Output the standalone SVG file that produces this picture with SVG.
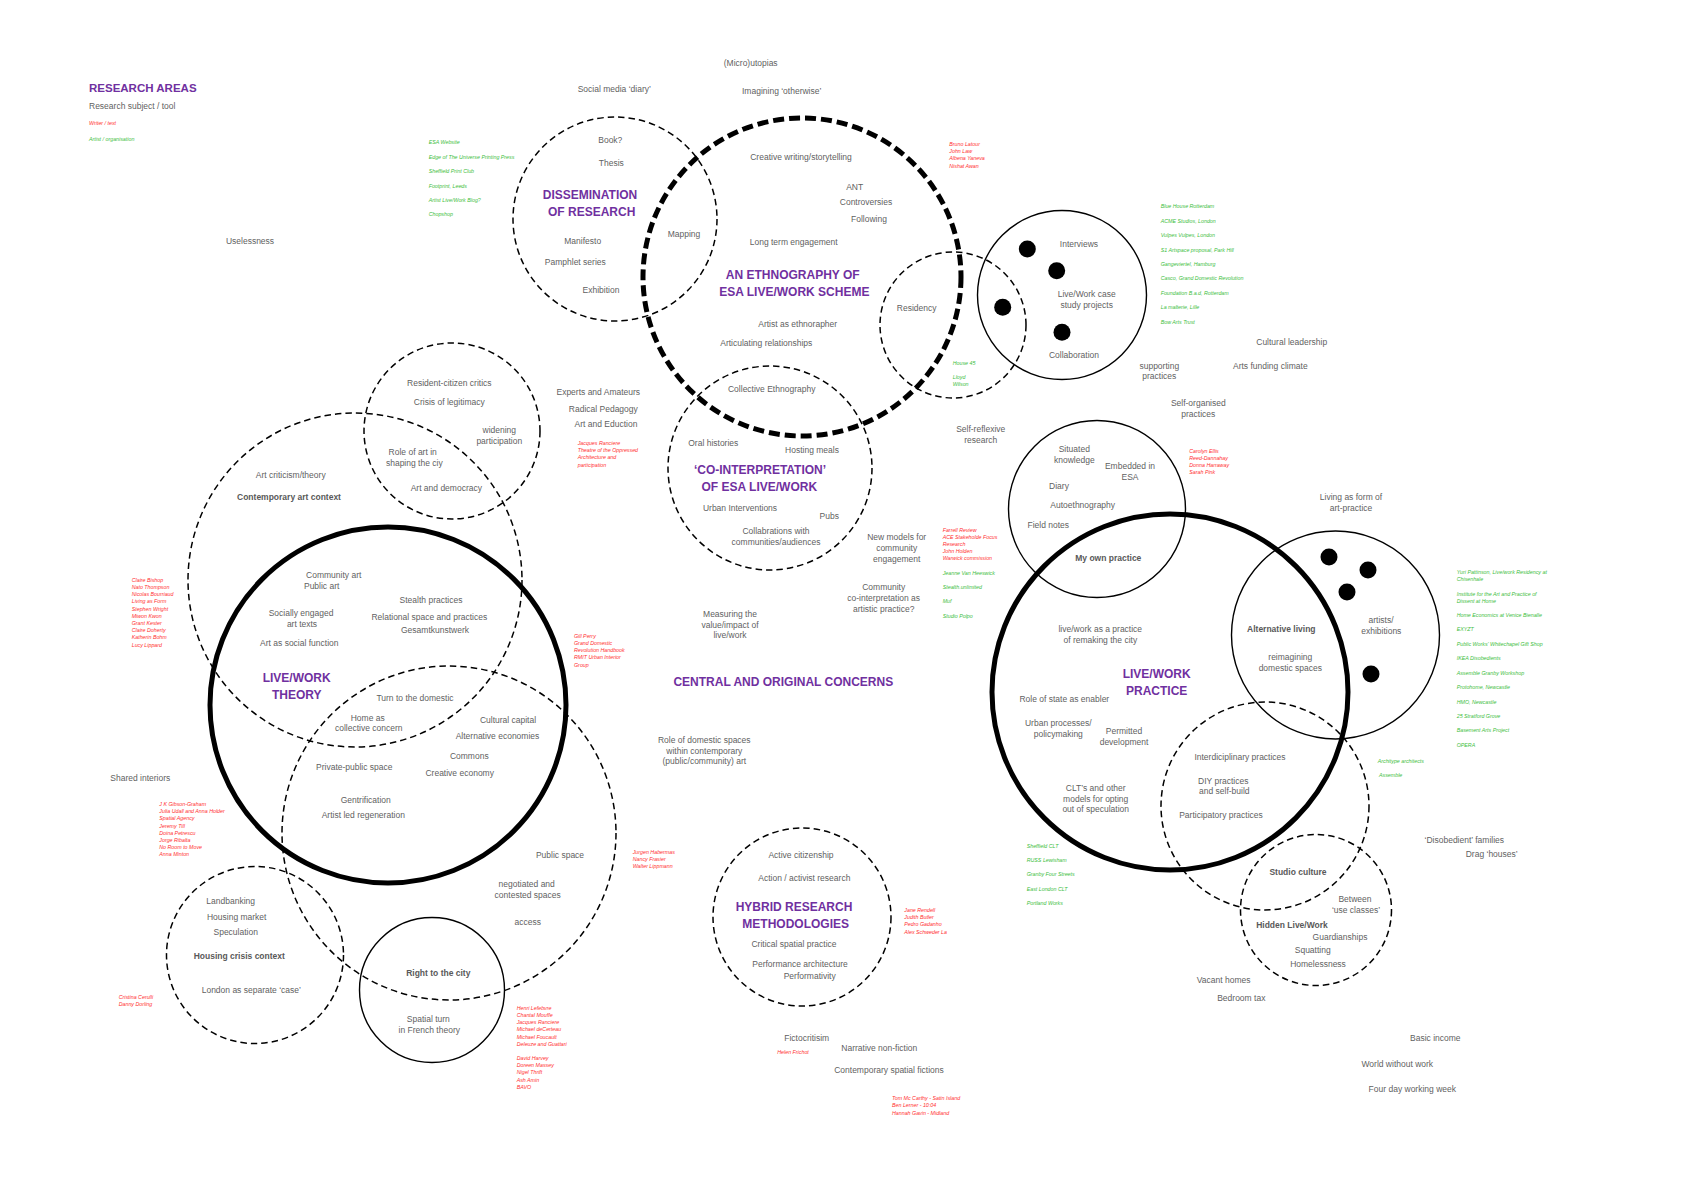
<svg xmlns="http://www.w3.org/2000/svg" width="1684" height="1191" viewBox="0 0 1684 1191">
<style>
text{font-family:"Liberation Sans",Arial,sans-serif}
.t{font-size:8.5px;fill:#5f5f5f;text-anchor:middle}
.tb{font-size:8.5px;fill:#595959;text-anchor:middle;font-weight:bold}
.h{font-size:12px;fill:#7030A0;font-weight:bold;text-anchor:middle}
.r{font-size:5.3px;fill:#FF3030;font-style:italic}
.g{font-size:5.3px;fill:#3DBE3D;font-style:italic}
.dash{fill:none;stroke:#000;stroke-width:1.5;stroke-dasharray:6.5 4}
.tdash{fill:none;stroke:#000;stroke-width:5;stroke-dasharray:11 5}
.solid{fill:none;stroke:#000;stroke-width:1.4}
.thick{fill:none;stroke:#000;stroke-width:5}
.dot{fill:#000}
</style>
<rect width="1684" height="1191" fill="#fff"/>

<g id="legend">
<text x="89" y="92" style="font-size:11.5px;fill:#7030A0;font-weight:bold">RESEARCH AREAS</text>
<text class="t" x="89" y="108.7" style="text-anchor:start">Research subject / tool</text>
<text class="r" x="89" y="124.7">Writer / text</text>
<text class="g" x="89" y="141">Artist / organisation</text>
</g>

<g id="n-dissemination">
<circle class="dash" cx="615" cy="219" r="102"/>
<text class="t" x="610.3" y="143.3">Book?</text>
<text class="t" x="611.3" y="166">Thesis</text>
<text class="h" x="590" y="199.3">DISSEMINATION</text>
<text class="h" x="591.7" y="216">OF RESEARCH</text>
<text class="t" x="582.7" y="243.7">Manifesto</text>
<text class="t" x="575.3" y="265.3">Pamphlet series</text>
<text class="t" x="601" y="293">Exhibition</text>
<text class="t" x="684" y="237">Mapping</text>
</g>

<g id="n-ethnography">
<circle class="tdash" cx="802" cy="277" r="159"/>
<text class="t" x="801" y="160">Creative writing/storytelling</text>
<text class="t" x="854.7" y="190.3">ANT</text>
<text class="t" x="866" y="205">Controversies</text>
<text class="t" x="869" y="221.7">Following</text>
<text class="t" x="793.7" y="245">Long term engagement</text>
<text class="h" x="792.7" y="279.3">AN ETHNOGRAPHY OF</text>
<text class="h" x="794.3" y="296">ESA LIVE/WORK SCHEME</text>
<text class="t" x="797.7" y="326.7">Artist as ethnorapher</text>
<text class="t" x="766.3" y="346">Articulating relationships</text>
</g>

<g id="n-residency">
<circle class="dash" cx="953" cy="325" r="73"/>
<text class="t" x="916.7" y="311">Residency</text>
</g>

<g id="n-casestudy">
<circle class="solid" cx="1062" cy="295" r="84.5"/>
<circle class="dot" cx="1027.3" cy="249" r="8.5"/>
<circle class="dot" cx="1056.7" cy="270.7" r="8.5"/>
<circle class="dot" cx="1002.7" cy="307.3" r="8.5"/>
<circle class="dot" cx="1062" cy="332.3" r="8.5"/>
<text class="t" x="1079" y="247.3">Interviews</text>
<text class="t" x="1086.7" y="296.7">Live/Work case</text>
<text class="t" x="1086.7" y="307.7">study projects</text>
<text class="t" x="1074" y="357.7">Collaboration</text>
</g>

<g id="n-cointerpretation">
<circle class="dash" cx="770" cy="468" r="102"/>
<text class="t" x="771.7" y="392">Collective Ethnography</text>
<text class="t" x="713.3" y="446">Oral histories</text>
<text class="t" x="812" y="453">Hosting meals</text>
<text class="h" x="760" y="474.3">‘CO-INTERPRETATION’</text>
<text class="h" x="759.3" y="491">OF ESA LIVE/WORK</text>
<text class="t" x="740" y="510.7">Urban Interventions</text>
<text class="t" x="829.3" y="519.3">Pubs</text>
<text class="t" x="776" y="534">Collabrations with</text>
<text class="t" x="776" y="544.7">communities/audiences</text>
</g>

<g id="n-hybrid">
<circle class="dash" cx="802" cy="917" r="89"/>
<text class="t" x="801" y="858.3">Active citizenship</text>
<text class="t" x="804.3" y="881.3">Action / activist research</text>
<text class="h" x="794" y="911">HYBRID RESEARCH</text>
<text class="h" x="795.7" y="927.6">METHODOLOGIES</text>
<text class="t" x="794" y="946.7">Critical spatial practice</text>
<text class="t" x="800" y="967">Performance architecture</text>
<text class="t" x="809.7" y="978.7">Performativity</text>
</g>

<g id="n-citizen">
<circle class="dash" cx="452" cy="431" r="88"/>
<text class="t" x="449.3" y="386.3">Resident-citizen critics</text>
<text class="t" x="449.3" y="405">Crisis of legitimacy</text>
<text class="t" x="499.3" y="433">widening</text>
<text class="t" x="499.3" y="443.7">participation</text>
<text class="t" x="412.7" y="455.3">Role of art in</text>
<text class="t" x="414.3" y="466.3">shaping the ciy</text>
<text class="t" x="446.3" y="490.7">Art and democracy</text>
</g>

<g id="n-artcontext">
<circle class="dash" cx="355" cy="580" r="167"/>
<text class="t" x="290.7" y="478.3">Art criticism/theory</text>
<text class="tb" x="289" y="499.7">Contemporary art context</text>
</g>

<g id="n-theory">
<circle class="thick" cx="388" cy="705" r="178"/>
<text class="t" x="333.7" y="578">Community art</text>
<text class="t" x="321.7" y="588.7">Public art</text>
<text class="t" x="431" y="602.7">Stealth practices</text>
<text class="t" x="301" y="616.3">Socially engaged</text>
<text class="t" x="302" y="627">art texts</text>
<text class="t" x="429.3" y="619.7">Relational space and practices</text>
<text class="t" x="435" y="633.3">Gesamtkunstwerk</text>
<text class="t" x="299.3" y="645.7">Art as social function</text>
<text class="h" x="296.7" y="681.6">LIVE/WORK</text>
<text class="h" x="296.7" y="698.6">THEORY</text>
<text class="t" x="415" y="701">Turn to the domestic</text>
<text class="t" x="367.7" y="720.7">Home as</text>
<text class="t" x="368.7" y="731.3">collective concern</text>
<text class="t" x="508" y="723">Cultural capital</text>
<text class="t" x="497.5" y="739.3">Alternative economies</text>
<text class="t" x="469.3" y="758.7">Commons</text>
<text class="t" x="354.3" y="769.7">Private-public space</text>
<text class="t" x="459.7" y="775.7">Creative economy</text>
<text class="t" x="365.7" y="802.7">Gentrification</text>
<text class="t" x="363.3" y="818.3">Artist led regeneration</text>
</g>

<g id="n-publicspace">
<circle class="dash" cx="449" cy="833" r="167"/>
<text class="t" x="560" y="857.7">Public space</text>
<text class="t" x="526.7" y="887.3">negotiated and</text>
<text class="t" x="527.7" y="898">contested spaces</text>
<text class="t" x="527.7" y="925">access</text>
</g>

<g id="n-housing">
<circle class="dash" cx="255" cy="955" r="88.5"/>
<text class="t" x="230.7" y="904.3">Landbanking</text>
<text class="t" x="236.7" y="920">Housing market</text>
<text class="t" x="235.7" y="935.3">Speculation</text>
<text class="tb" x="239.3" y="958.7">Housing crisis context</text>
<text class="t" x="251.3" y="993">London as separate ‘case’</text>
</g>

<g id="n-rightcity">
<circle class="solid" cx="432" cy="990" r="72.5"/>
<text class="tb" x="438.3" y="976.3">Right to the city</text>
<text class="t" x="428.3" y="1022">Spatial turn</text>
<text class="t" x="429.3" y="1033">in French theory</text>
</g>

<g id="n-ownpractice">
<circle class="solid" cx="1097" cy="509" r="88.5"/>
<text class="t" x="1074.3" y="452">Situated</text>
<text class="t" x="1074.3" y="463">knowledge</text>
<text class="t" x="1130" y="468.7">Embedded in</text>
<text class="t" x="1130" y="479.7">ESA</text>
<text class="t" x="1059" y="489">Diary</text>
<text class="t" x="1082.7" y="508.3">Autoethnography</text>
<text class="t" x="1048.3" y="527.7">Field notes</text>
<text class="tb" x="1108.3" y="561.3">My own practice</text>
</g>

<g id="n-practice">
<circle class="thick" cx="1170" cy="692" r="178"/>
<text class="t" x="1100.3" y="632.3">live/work as a practice</text>
<text class="t" x="1100.3" y="643">of remaking the city</text>
<text class="h" x="1156.7" y="678.3">LIVE/WORK</text>
<text class="h" x="1156.7" y="695">PRACTICE</text>
<text class="t" x="1064.3" y="701.7">Role of state as enabler</text>
<text class="t" x="1058.3" y="726.3">Urban processes/</text>
<text class="t" x="1058.3" y="737">policymaking</text>
<text class="t" x="1124" y="734">Permitted</text>
<text class="t" x="1124" y="744.7">development</text>
<text class="t" x="1095.7" y="790.7">CLT’s and other</text>
<text class="t" x="1095.7" y="801.7">models for opting</text>
<text class="t" x="1095.7" y="812.3">out of speculation</text>
</g>

<g id="n-altliving">
<circle class="solid" cx="1335.5" cy="635" r="104"/>
<circle class="dot" cx="1329" cy="557" r="8.5"/>
<circle class="dot" cx="1368" cy="570" r="8.5"/>
<circle class="dot" cx="1347" cy="592" r="8.5"/>
<circle class="dot" cx="1371" cy="674" r="8.5"/>
<text class="tb" x="1281.3" y="632.3">Alternative living</text>
<text class="t" x="1290.3" y="659.7">reimagining</text>
<text class="t" x="1290.3" y="670.7">domestic spaces</text>
<text class="t" x="1381" y="623">artists/</text>
<text class="t" x="1381.3" y="633.7">exhibitions</text>
</g>

<g id="n-interdisc">
<circle class="dash" cx="1265" cy="806" r="104"/>
<text class="t" x="1240" y="760.3">Interdiciplinary practices</text>
<text class="t" x="1223.3" y="783.7">DIY practices</text>
<text class="t" x="1224.3" y="794.3">and self-build</text>
<text class="t" x="1221" y="818">Participatory practices</text>
</g>

<g id="n-hidden">
<circle class="dash" cx="1316" cy="910" r="75.5"/>
<text class="tb" x="1298" y="875.3">Studio culture</text>
<text class="t" x="1355" y="902.3">Between</text>
<text class="t" x="1356" y="913.3">‘use classes’</text>
<text class="tb" x="1292" y="927.7">Hidden Live/Work</text>
<text class="t" x="1340" y="940.3">Guardianships</text>
<text class="t" x="1312.7" y="952.7">Squatting</text>
<text class="t" x="1318" y="966.7">Homelessness</text>
</g>

<g id="floating-labels">
<text class="t" x="250" y="243.7">Uselessness</text>
<text class="t" x="750.7" y="66.3">(Micro)utopias</text>
<text class="t" x="614.3" y="92.3">Social media ‘diary’</text>
<text class="t" x="781.7" y="93.7">Imagining ‘otherwise’</text>
<text class="t" x="1291.7" y="344.7">Cultural leadership</text>
<text class="t" x="1159.3" y="368.7">supporting</text>
<text class="t" x="1159.3" y="379">practices</text>
<text class="t" x="1270.3" y="369">Arts funding climate</text>
<text class="t" x="1198.3" y="405.7">Self-organised</text>
<text class="t" x="1198.3" y="416.7">practices</text>
<text class="t" x="980.7" y="432">Self-reflexive</text>
<text class="t" x="980.7" y="443">research</text>
<text class="t" x="598.3" y="394.7">Experts and Amateurs</text>
<text class="t" x="603.3" y="411.7">Radical Pedagogy</text>
<text class="t" x="606" y="426.7">Art and Eduction</text>
<text class="t" x="1351" y="500">Living as form of</text>
<text class="t" x="1351" y="511">art-practice</text>
<text class="t" x="896.7" y="540">New models for</text>
<text class="t" x="896.7" y="551">community</text>
<text class="t" x="896.7" y="562">engagement</text>
<text class="t" x="883.7" y="590">Community</text>
<text class="t" x="883.7" y="601">co-interpretation as</text>
<text class="t" x="883.7" y="611.7">artistic practice?</text>
<text class="t" x="730" y="616.7">Measuring the</text>
<text class="t" x="730" y="627.7">value/impact of</text>
<text class="t" x="730" y="638.3">live/work</text>
<text class="h" x="783.3" y="686">CENTRAL AND ORIGINAL CONCERNS</text>
<text class="t" x="704.3" y="742.7">Role  of domestic spaces</text>
<text class="t" x="704.3" y="753.7">within contemporary</text>
<text class="t" x="704.3" y="764.3">(public/community) art</text>
<text class="t" x="140.3" y="781.3">Shared interiors</text>
<text class="t" x="1464.3" y="843.3">‘Disobedient’ families</text>
<text class="t" x="1491.7" y="857">Drag ‘houses’</text>
<text class="t" x="1223.7" y="983.3">Vacant homes</text>
<text class="t" x="1241.3" y="1000.7">Bedroom tax</text>
<text class="t" x="806.7" y="1040.7">Fictocritisim</text>
<text class="t" x="879.3" y="1051.3">Narrative non-fiction</text>
<text class="t" x="889" y="1073">Contemporary spatial fictions</text>
<text class="t" x="1435.3" y="1040.7">Basic income</text>
<text class="t" x="1397.3" y="1066.7">World without work</text>
<text class="t" x="1412.3" y="1091.7">Four day working week</text>
</g>

<g id="writers">
<text class="r" x="949.3" y="146">Bruno Latour</text>
<text class="r" x="949.3" y="153">John Law</text>
<text class="r" x="949.3" y="160.3">Albena Yaneva</text>
<text class="r" x="949.3" y="167.7">Nishat Awan</text>
<text class="r" x="1189.3" y="453">Carolyn Ellis</text>
<text class="r" x="1189.3" y="460">Reed-Dannahay</text>
<text class="r" x="1189.3" y="467.3">Donna Harraway</text>
<text class="r" x="1189.3" y="474.3">Sarah Pink</text>
<text class="r" x="577.7" y="445">Jacques Ranciere</text>
<text class="r" x="577.7" y="452.3">Theatre of the Oppressed</text>
<text class="r" x="577.7" y="459.3">Architecture and</text>
<text class="r" x="577.7" y="466.7">participation</text>
<text class="r" x="942.7" y="531.7">Farrell Review</text>
<text class="r" x="942.7" y="538.7">ACE Stakeholde Focus</text>
<text class="r" x="942.7" y="545.7">Research</text>
<text class="r" x="942.7" y="553">John Holden</text>
<text class="r" x="942.7" y="560.3">Warwick commission</text>
<text class="r" x="574" y="637.7">Gill Perry</text>
<text class="r" x="574" y="645">Grand Domestic</text>
<text class="r" x="574" y="652">Revolution Handbook</text>
<text class="r" x="574" y="659.3">RMIT Urban Interior</text>
<text class="r" x="574" y="666.7">Group</text>
<text class="r" x="131.7" y="582">Claire Bishop</text>
<text class="r" x="131.7" y="589">Nato Thompson</text>
<text class="r" x="131.7" y="596">Nicolas Bourriaud</text>
<text class="r" x="131.7" y="603.3">Living as Form</text>
<text class="r" x="131.7" y="610.7">Stephen Wright</text>
<text class="r" x="131.7" y="617.7">Miwon Kwon</text>
<text class="r" x="131.7" y="625">Grant Kester</text>
<text class="r" x="131.7" y="632">Claire Doherty</text>
<text class="r" x="131.7" y="639.3">Katherin Bohm</text>
<text class="r" x="131.7" y="646.7">Lucy Lippard</text>
<text class="r" x="159.3" y="806">J K Gibson-Graham</text>
<text class="r" x="159.3" y="813">Julia Udall and Anna Holder</text>
<text class="r" x="159.3" y="820.3">Spatial Agency</text>
<text class="r" x="159.3" y="827.7">Jeremy Till</text>
<text class="r" x="159.3" y="834.7">Doina Petrescu</text>
<text class="r" x="159.3" y="842">Jorge Ribalta</text>
<text class="r" x="159.3" y="849">No Room to Move</text>
<text class="r" x="159.3" y="856.3">Anna Minton</text>
<text class="r" x="632.7" y="854">Jurgen Habermas</text>
<text class="r" x="632.7" y="861">Nancy Frasier</text>
<text class="r" x="632.7" y="868">Walter Lippmann</text>
<text class="r" x="904.3" y="912">Jane Rendell</text>
<text class="r" x="904.3" y="919">Judith Butler</text>
<text class="r" x="904.3" y="926.3">Pedro Gadanho</text>
<text class="r" x="904.3" y="933.7">Alex Schweder La</text>
<text class="r" x="118.7" y="998.7">Cristina Cerulli</text>
<text class="r" x="118.7" y="1006">Danny Dorling</text>
<text class="r" x="516.7" y="1009.7">Henri Lefebvre</text>
<text class="r" x="516.7" y="1016.7">Chantal Mouffe</text>
<text class="r" x="516.7" y="1024">Jacques Ranciere</text>
<text class="r" x="516.7" y="1031.3">Michael deCerteau</text>
<text class="r" x="516.7" y="1038.7">Michael Foucault</text>
<text class="r" x="516.7" y="1045.7">Deleuze and Guattari</text>
<text class="r" x="516.7" y="1060">David Harvey</text>
<text class="r" x="516.7" y="1067">Doreen Massey</text>
<text class="r" x="516.7" y="1074.3">Nigel Thrift</text>
<text class="r" x="516.7" y="1081.7">Ash Amin</text>
<text class="r" x="516.7" y="1088.7">BAVO</text>
<text class="r" x="777.3" y="1053.7">Helen Frichot</text>
<text class="r" x="892" y="1100">Tom Mc Carthy - Satin Island</text>
<text class="r" x="892" y="1107.3">Ben Lerner - 10:04</text>
<text class="r" x="892" y="1114.7">Hannah Gavin - Midland</text>
</g>

<g id="organisations">
<text class="g" x="428.7" y="144.3">ESA Website</text>
<text class="g" x="428.7" y="158.7">Edge of The Universe Printing Press</text>
<text class="g" x="428.7" y="173">Sheffield Print Club</text>
<text class="g" x="428.7" y="187.7">Footprint, Leeds</text>
<text class="g" x="428.7" y="202">Artist Live/Work  Blog?</text>
<text class="g" x="428.7" y="216.3">Chopshop</text>
<text class="g" x="1160.7" y="208.3">Blue House Rotterdam</text>
<text class="g" x="1160.7" y="222.7">ACME Studios, London</text>
<text class="g" x="1160.7" y="237">Vulpes Vulpes, London</text>
<text class="g" x="1160.7" y="251.7">S1 Artspace proposal, Park Hill</text>
<text class="g" x="1160.7" y="266">Gangeviertel, Hamburg</text>
<text class="g" x="1160.7" y="280.3">Casco, Grand Domestic Revolution</text>
<text class="g" x="1160.7" y="294.7">Foundation B.a.d, Rotterdam</text>
<text class="g" x="1160.7" y="309">La malterie, Lille</text>
<text class="g" x="1160.7" y="323.7">Bow Arts Trust</text>
<text class="g" x="952.7" y="364.7">House 45</text>
<text class="g" x="952.7" y="379">Lloyd</text>
<text class="g" x="952.7" y="386.3">Wilson</text>
<text class="g" x="942.7" y="574.7">Jeanne Van Heeswick</text>
<text class="g" x="942.7" y="588.7">Stealth.unlimited</text>
<text class="g" x="942.7" y="603">Muf</text>
<text class="g" x="942.7" y="617.7">Studio Polpo</text>
<text class="g" x="1456.7" y="574">Yuri Pattinson, Live/work Residency at</text>
<text class="g" x="1456.7" y="581">Chisenhale</text>
<text class="g" x="1456.7" y="595.7">Institute for the Art and Practice of</text>
<text class="g" x="1456.7" y="603">Dissent at Home</text>
<text class="g" x="1456.7" y="617">Home Economics at Venice Bienalle</text>
<text class="g" x="1456.7" y="631.3">EXYZT</text>
<text class="g" x="1456.7" y="645.7">Public Works’ Whitechapel Gift Shop</text>
<text class="g" x="1456.7" y="660">IKEA Disobedients</text>
<text class="g" x="1456.7" y="675">Assemble Granby Workshop</text>
<text class="g" x="1456.7" y="689">Protohome, Newcastle</text>
<text class="g" x="1456.7" y="703.7">HMO, Newcastle</text>
<text class="g" x="1456.7" y="718">25 Stratford Grove</text>
<text class="g" x="1456.7" y="732.3">Basement Arts Project</text>
<text class="g" x="1456.7" y="746.7">OPERA</text>
<text class="g" x="1377.7" y="762.7">Architype architects</text>
<text class="g" x="1379" y="777">Assemble</text>
<text class="g" x="1026.7" y="847.7">Sheffield CLT</text>
<text class="g" x="1026.7" y="862">RUSS Lewisham</text>
<text class="g" x="1026.7" y="876.3">Granby Four Streets</text>
<text class="g" x="1026.7" y="891">East London CLT</text>
<text class="g" x="1026.7" y="905">Portland Works</text>
</g>
</svg>
